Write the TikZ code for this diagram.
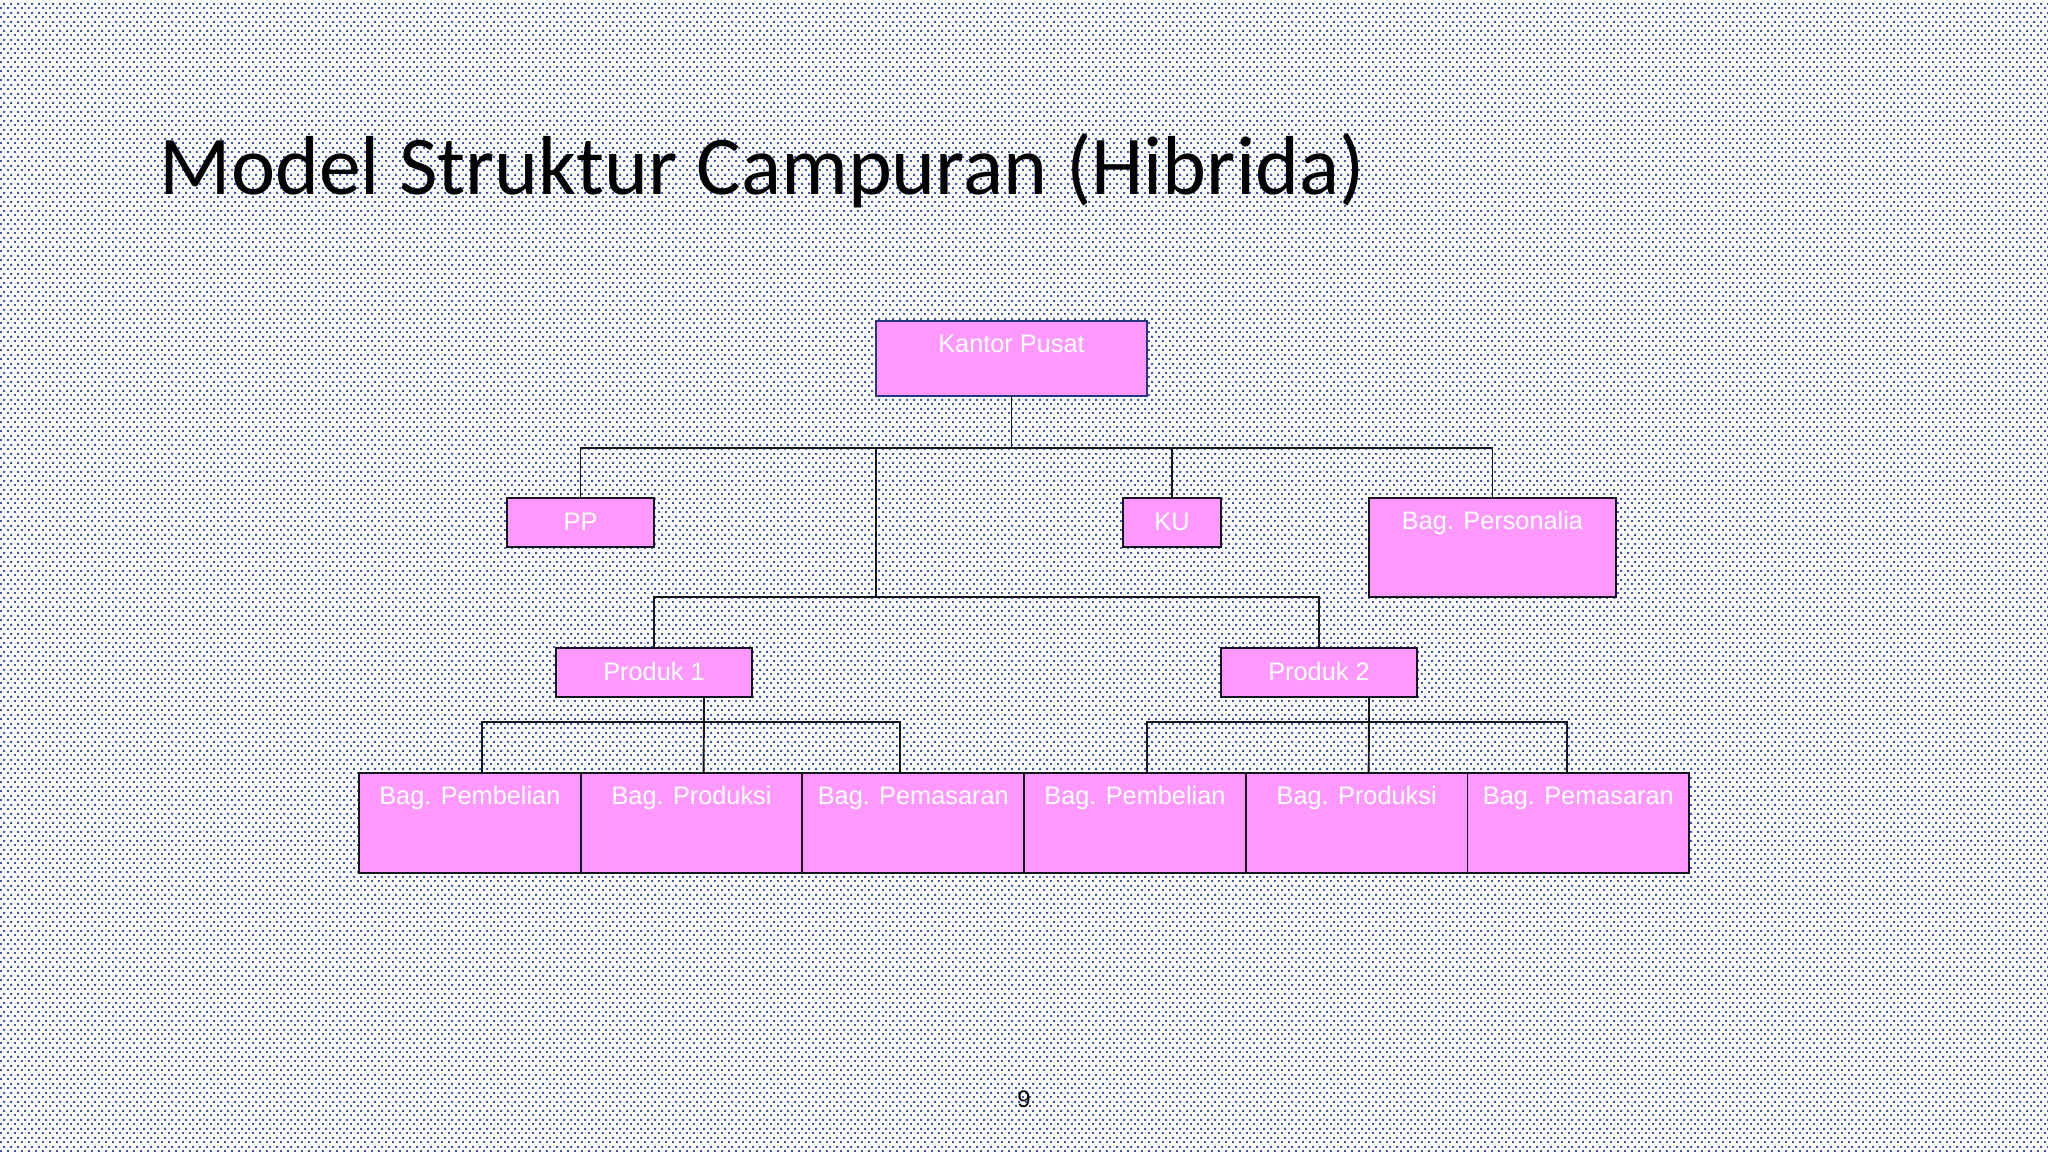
\documentclass[tikz,border=0pt]{standalone}
\usepackage{fontspec}
\newfontfamily\arialfont{Liberation Sans}
\newfontfamily\titlefont{Carlito}
\usetikzlibrary{patterns.meta}
\definecolor{boxpink}{RGB}{255,153,255}
\definecolor{navyborder}{RGB}{40,52,130}
\definecolor{darkline}{RGB}{20,20,30}
\definecolor{dotblue}{RGB}{60,90,170}
\tikzdeclarepattern{name=bgdots, type=uncolored,
  bounding box={(0mm,0mm) and (0.67mm,0.87mm)},
  tile size={(0.67mm,0.87mm)},
  code={\fill (0mm,0mm) rectangle (0.2mm,0.2mm);
        \fill (0.335mm,0.435mm) rectangle (0.535mm,0.635mm);}}
\tikzset{
  box/.style={draw=darkline, line width=0.5pt, fill=boxpink, inner sep=0pt, outer sep=0pt},
  boxtext/.style={anchor=base, yshift=-0.32cm, text=white, inner sep=0pt,
    font=\arialfont\fontsize{7.2}{8.6}\selectfont},
  conn/.style={draw=darkline, line width=0.55pt},
}
\begin{document}
\begin{tikzpicture}[x=0.01cm,y=-0.01cm]
\useasboundingbox (0,0) rectangle (2048,1152);
\fill[white] (0,0) rectangle (2048,1152);
\fill[pattern=bgdots, pattern color=dotblue] (0,0) rectangle (2048,1152);

% title
\node[anchor=base west, inner sep=0pt, font=\titlefont\fontsize{23.8}{28}\selectfont] (title) at (159,195) {Model Struktur Campuran (Hibrida)};

% boxes
\node[box, draw=navyborder, minimum width=2.71cm, minimum height=0.75cm,
  label={[boxtext]north:Kantor Pusat}] (kp) at (1011.5,358.5) {};
\node[box, minimum width=1.47cm, minimum height=0.49cm,
  label={[boxtext]north:PP}] (pp) at (580.5,522.5) {};
\node[box, minimum width=0.98cm, minimum height=0.49cm,
  label={[boxtext]north:KU}] (ku) at (1172,522.5) {};
\node[box, minimum width=2.47cm, minimum height=0.99cm,
  label={[boxtext]north:Bag. Personalia}] (bpers) at (1492.5,547.5) {};
\node[box, minimum width=1.96cm, minimum height=0.49cm,
  label={[boxtext]north:Produk 1}] (p1) at (654,672.5) {};
\node[box, minimum width=1.96cm, minimum height=0.49cm,
  label={[boxtext]north:Produk 2}] (p2) at (1319,672.5) {};

\node[box, minimum width=2.217cm, minimum height=1.0cm,
  label={[boxtext]north:Bag. Pembelian}] (c1) at (469.85,823) {};
\node[box, minimum width=2.217cm, minimum height=1.0cm,
  label={[boxtext]north:Bag. Produksi}] (c2) at (691.55,823) {};
\node[box, minimum width=2.217cm, minimum height=1.0cm,
  label={[boxtext]north:Bag. Pemasaran}] (c3) at (913.25,823) {};
\node[box, minimum width=2.217cm, minimum height=1.0cm,
  label={[boxtext]north:Bag. Pembelian}] (c4) at (1134.95,823) {};
\node[box, minimum width=2.217cm, minimum height=1.0cm,
  label={[boxtext]north:Bag. Produksi}] (c5) at (1356.65,823) {};
\node[box, minimum width=2.217cm, minimum height=1.0cm,
  label={[boxtext]north:Bag. Pemasaran}] (c6) at (1578.35,823) {};

% junction coordinates
\coordinate (j1) at (1011.5,448);
\coordinate (t1) at (876,448);
\coordinate (t2) at (876,597);
\coordinate (h1) at (704,722);
\coordinate (h2) at (1369,722);

% connectors
\draw[conn] (kp.south) -- (j1);
\draw[conn] (pp.north) |- (j1) -| (bpers.north);
\draw[conn] (ku.north) -- (ku.north |- j1);
\draw[conn] (t1) -- (t2);
\draw[conn] (p1.north) |- (t2) -| (p2.north);

\draw[conn] ([xshift=0.5cm]p1.south) -- ([xshift=0.12cm]c2.north);
\draw[conn] ([xshift=0.12cm]c1.north) |- (h1) -| ([xshift=-0.13cm]c3.north);
\draw[conn] ([xshift=0.5cm]p2.south) -- ([xshift=0.12cm]c5.north);
\draw[conn] ([xshift=0.12cm]c4.north) |- (h2) -| ([xshift=-0.11cm]c6.north);

% page number
\node[anchor=base, inner sep=0pt, font=\arialfont\fontsize{6.8}{8}\selectfont] (pgnum) at (1024,1107) {9};
\end{tikzpicture}
\end{document}
